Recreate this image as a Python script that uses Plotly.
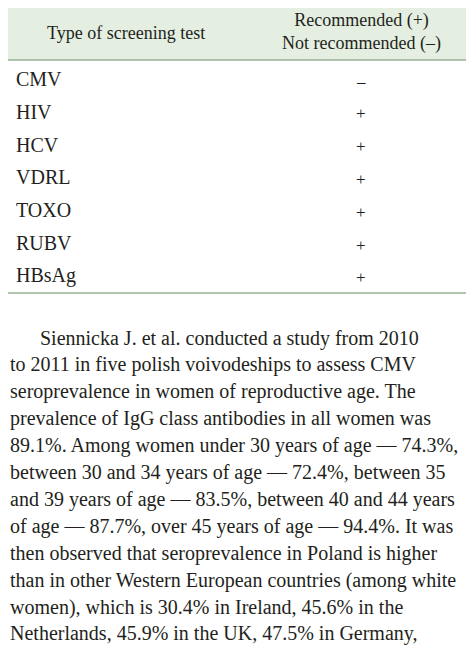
import plotly.graph_objects as go

tests = ["CMV", "HIV", "HCV", "VDRL", "TOXO", "RUBV", "HBsAg"]
recommended = ["–", "+", "+", "+", "+", "+", "+"]
header = ["Type of screening test", "Recommended (+)<br>Not recommended (–)"]
paragraph = [
    "Siennicka J. et al. conducted a study from 2010",
    "to 2011 in five polish voivodeships to assess CMV",
    "seroprevalence in women of reproductive age. The",
    "prevalence of IgG class antibodies in all women was",
    "89.1%. Among women under 30 years of age — 74.3%,",
    "between 30 and 34 years of age — 72.4%, between 35",
    "and 39 years of age — 83.5%, between 40 and 44 years",
    "of age — 87.7%, over 45 years of age — 94.4%. It was",
    "then observed that seroprevalence in Poland is higher",
    "than in other Western European countries (among white",
    "women), which is 30.4% in Ireland, 45.6% in the",
    "Netherlands, 45.9% in the UK, 47.5% in Germany,",
]

W, H = 474, 647
TXT = "#231f20"
FONT = "Liberation Serif"
fig = go.Figure()
shapes = [
    dict(type="rect", x0=0, x1=W, y0=0, y1=52, fillcolor="#e4efe1", line_width=0, layer="below"),
    dict(type="line", x0=0, x1=W, y0=52, y1=52, line=dict(color="#98b096", width=1.5)),
    dict(type="line", x0=0, x1=W, y0=285, y1=285, line=dict(color="#98b096", width=1.5)),
]
ann = [
    dict(x=118, y=25, text=header[0], xanchor="center", yanchor="middle", font=dict(size=18)),
    dict(x=353, y=24, text=header[1], xanchor="center", yanchor="middle", font=dict(size=18)),
]
row0, step = 71, 32.8
for i, (t, r) in enumerate(zip(tests, recommended)):
    y = row0 + i * step
    ann.append(dict(x=6, y=y, text=t, xanchor="left", yanchor="middle", font=dict(size=20)))
    ann.append(dict(x=353, y=y + 2, text=r, xanchor="center", yanchor="middle", font=dict(size=17)))
p0, pstep = 330, 26.9
for i, line in enumerate(paragraph):
    ann.append(dict(x=30 if i == 0 else 0, y=p0 + i * pstep, text=line, xanchor="left",
                    yanchor="middle", font=dict(size=20)))
for a in ann:
    a.update(xref="x", yref="y", showarrow=False)
    a["font"].update(family=FONT, color=TXT)
fig.update_layout(width=W, height=H, margin=dict(l=0, r=0, t=0, b=0),
                  plot_bgcolor="white", paper_bgcolor="white",
                  xaxis=dict(range=[0, W], visible=False, fixedrange=True),
                  yaxis=dict(range=[H, 0], visible=False, fixedrange=True),
                  shapes=shapes, annotations=ann, showlegend=False)
fig.write_html("out.html")
